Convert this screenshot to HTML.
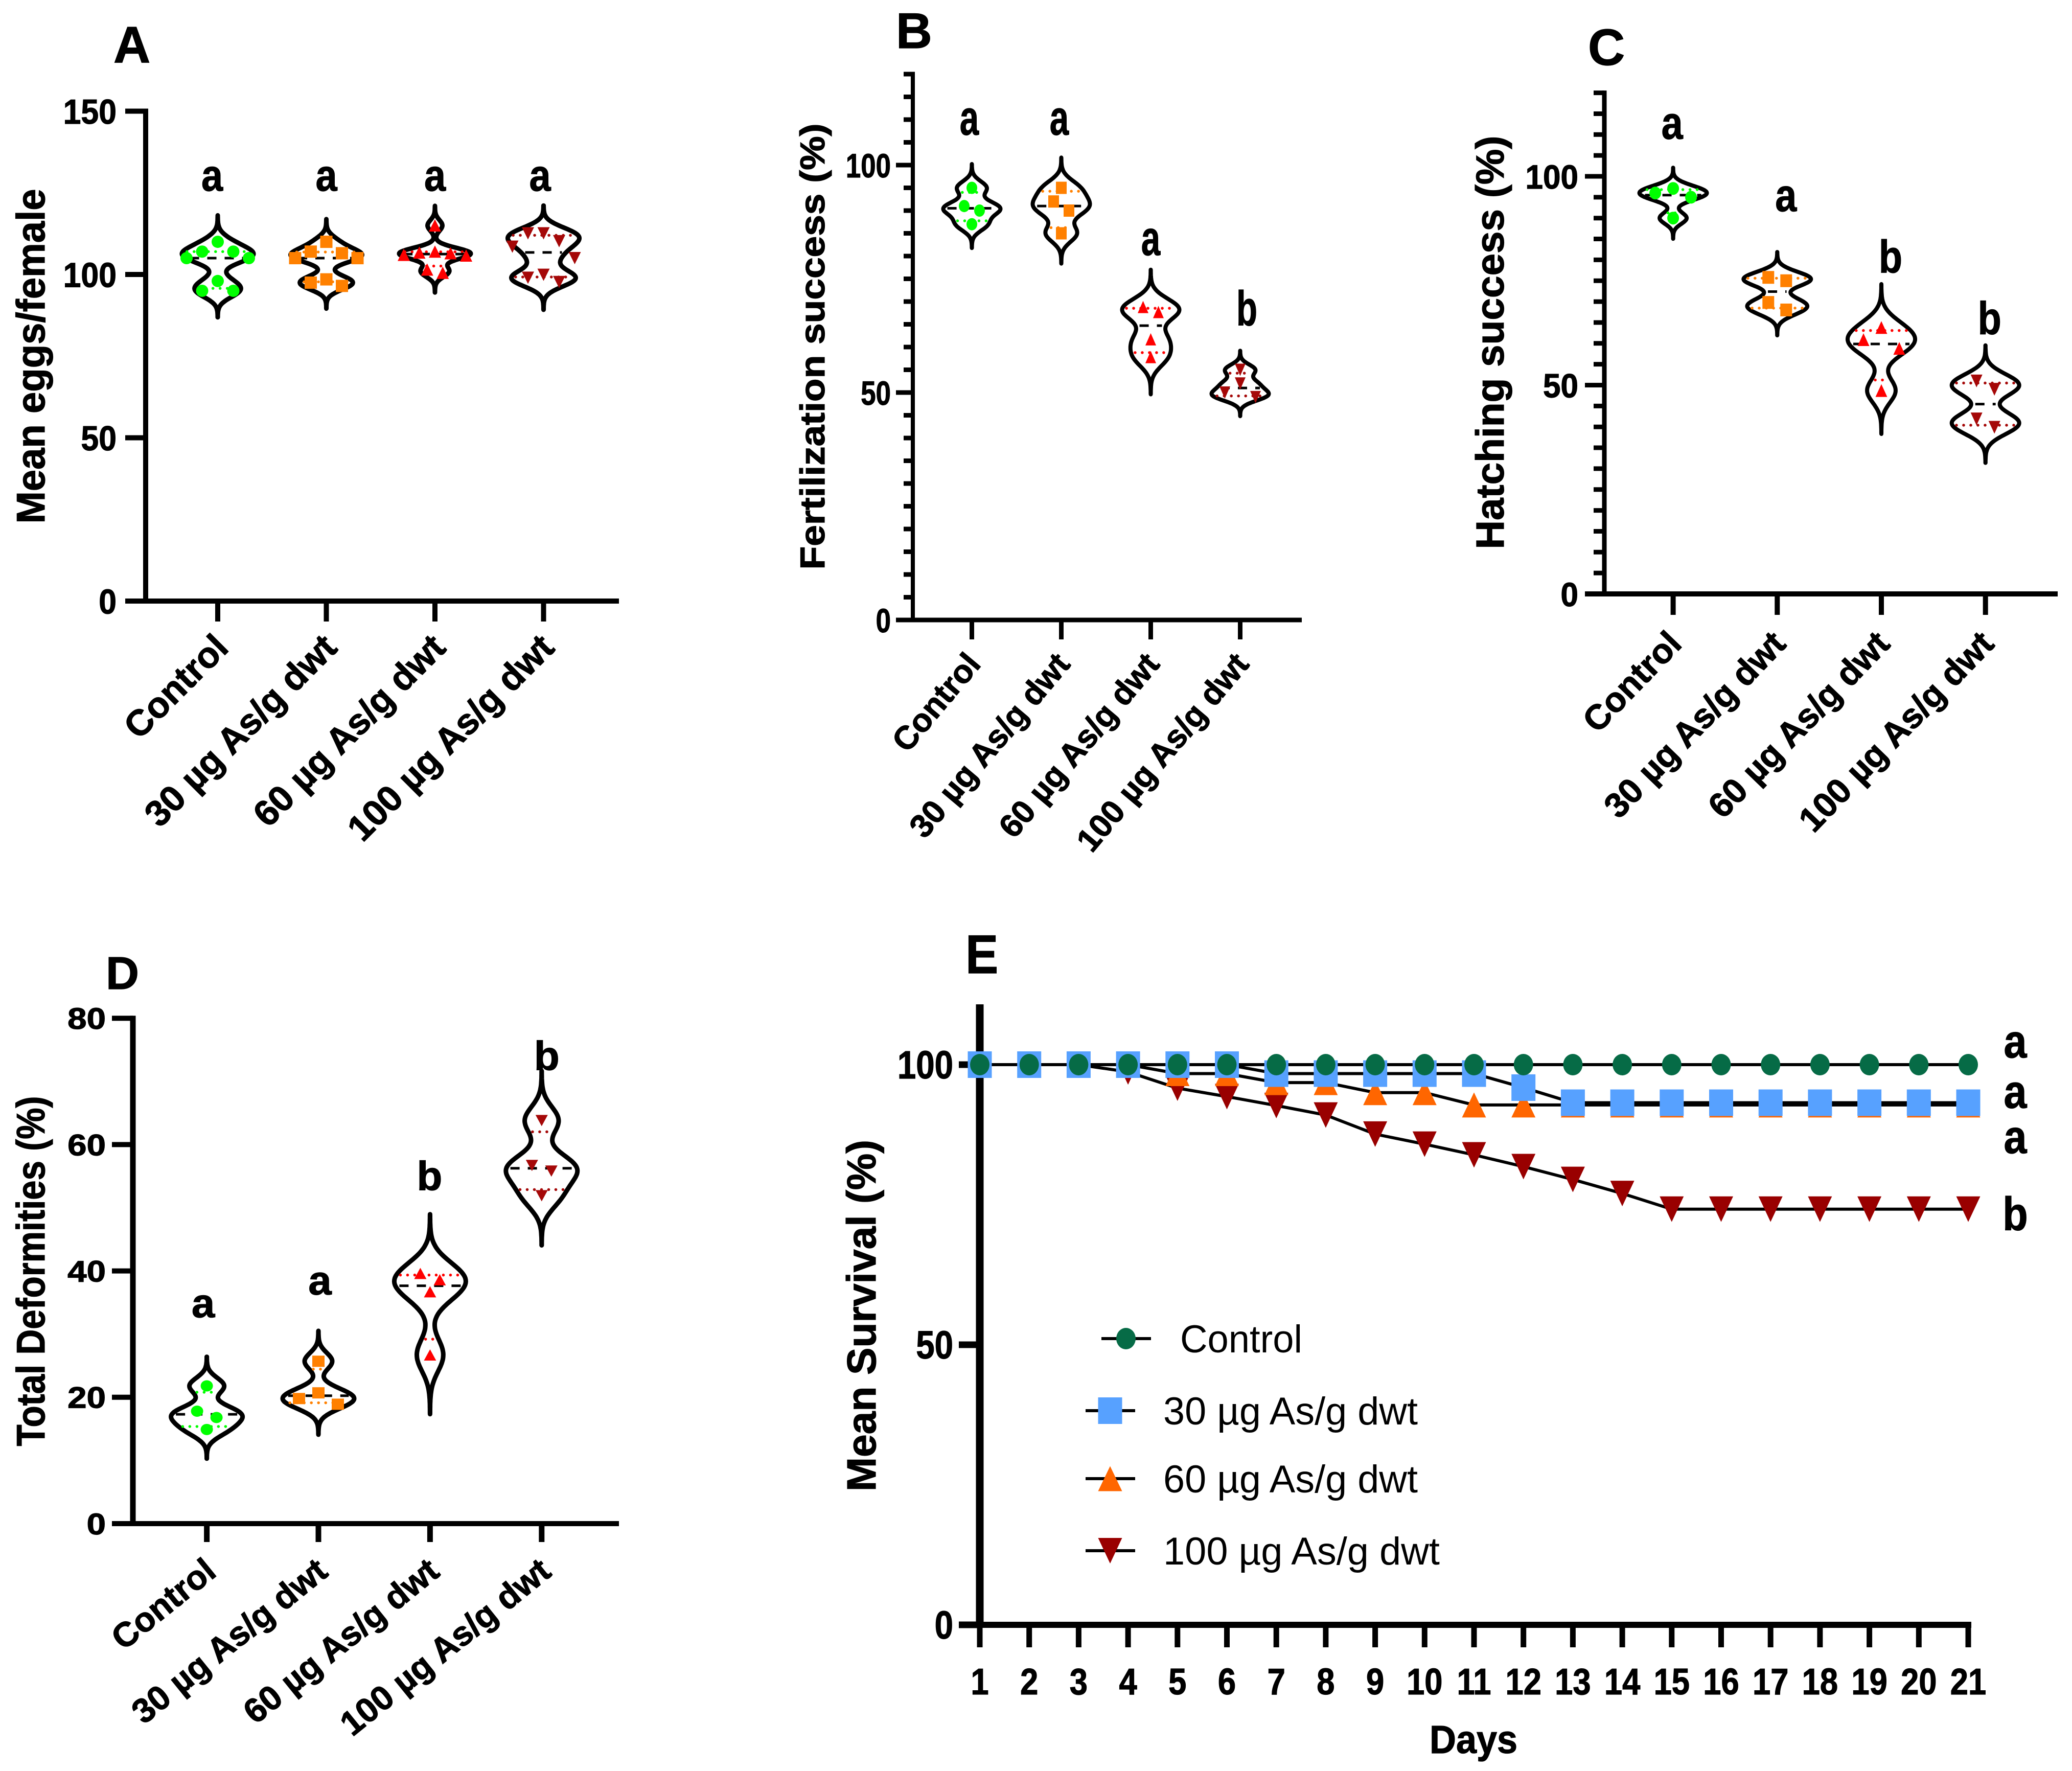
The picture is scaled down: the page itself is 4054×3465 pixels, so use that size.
<!DOCTYPE html>
<html lang="en">
<head>
<meta charset="utf-8">
<title>Arsenic exposure reproductive and survival outcomes</title>
<style>
html,body{margin:0;padding:0;background:#fff;}
svg{display:block;}
text{font-family:"Liberation Sans",Arial,sans-serif;fill:#000;}
text[font-weight="bold"]{stroke:#000;stroke-width:1.2px;}
</style>
</head>
<body>
<svg id="figure" xmlns="http://www.w3.org/2000/svg" width="4054" height="3465" viewBox="0 0 4054 3465"></svg>
<script>
// ---------- Data ----------
const categories = ["Control", "30 µg As/g dwt", "60 µg As/g dwt", "100 µg As/g dwt"];

const eggsControl = [110, 107, 107, 105, 105, 98, 95, 95];
const eggs30 = [110, 107, 106.5, 105, 105, 98.5, 97.5, 96.5];
const eggs60 = [115, 107, 106.7, 106.5, 106, 105.8, 101.5, 100.5];
const eggs100 = [112.6, 112.6, 110.2, 108.5, 105, 99.9, 99, 97.7];
const eggsLetters = ["a", "a", "a", "a"];
const eggsLetterLevels = [125.7, 125.7, 125.7, 125.7];
const eggsTicks = [0, 50, 100, 150];

const fertControl = [95, 91, 90, 87];
const fert30 = [95, 92, 90, 85];
const fert60 = [68.8, 67.7, 61.7, 57.8];
const fert100 = [55, 52, 50, 49];
const fertLetters = ["a", "a", "a", "b"];
const fertLetterLevels = [106.7, 106.7, 80.2, 64.8];
const fertTicks = [0, 50, 100];

const hatchControl = [97.1, 96, 95, 90];
const hatch30 = [75.8, 75, 69.8, 68];
const hatch60 = [63.8, 60.9, 58.8, 48.7];
const hatch100 = [51, 49, 41.9, 39.9];
const hatchLetters = ["a", "a", "b", "b"];
const hatchLetterLevels = [109, 91.7, 76.9, 62.2];
const hatchTicks = [0, 50, 100];

const deformControl = [21.8, 17.8, 16.8, 14.9];
const deform30 = [25.7, 20.7, 19.8, 18.9];
const deform60 = [39.6, 38.6, 36.7, 26.7];
const deform100 = [63.8, 56.7, 55.8, 51.9];
const deformLetters = ["a", "a", "b", "b"];
const deformLetterLevels = [32.7, 36.3, 52.8, 71.8];
const deformTicks = [0, 20, 40, 60, 80];

const days = [1, 2, 3, 4, 5, 6, 7, 8, 9, 10, 11, 12, 13, 14, 15, 16, 17, 18, 19, 20, 21];
const survivalControl = [100, 100, 100, 100, 100, 100, 100, 100, 100, 100, 100, 100, 100, 100, 100, 100, 100, 100, 100, 100, 100];
const survival30 = [100, 100, 100, 100, 100, 100, 98.4, 98.4, 98.4, 98.4, 98.4, 95.9, 93.2, 93.2, 93.2, 93.2, 93.2, 93.2, 93.2, 93.2, 93.2];
const survival60 = [100, 100, 100, 100, 98.4, 98.4, 96.8, 96.8, 95, 95, 92.8, 92.8, 92.8, 92.8, 92.8, 92.8, 92.8, 92.8, 92.8, 92.8, 92.8];
const survival100 = [100, 100, 100, 98.7, 95.8, 94.3, 92.7, 91, 87.6, 85.8, 83.9, 81.8, 79.5, 77, 74.2, 74.2, 74.2, 74.2, 74.2, 74.2, 74.2];
const survivalTicks = [0, 50, 100];
const survivalLetters = ["a", "a", "a", "b"];
const survivalLetterLevels = [101.3, 92.3, 84.2, 70.5];

// ---------- Layout and style (separate from data) ----------
const groupColors = ["#00FF00", "#FF8000", "#FF0000", "#A50808"];
const groupShapes = ["circle", "square", "up", "down"];
const survivalColors = ["#066B46", "#57A1FF", "#FF6600", "#990000"];

const svg = document.getElementById("figure");
const NS = "http://www.w3.org/2000/svg";

function el(parent, tag, name, attrs) {
  const node = document.createElementNS(NS, tag);
  
  
  for (const k in attrs) node.setAttribute(k, attrs[k]);
  parent.appendChild(node);
  return node;
}

function label(parent, name, str, x, y, o) {
  const sx = o.sx === undefined ? 1 : o.sx;
  const rot = o.rot === undefined ? 0 : o.rot;
  const attrs = {
    transform: "translate(" + x + "," + y + ") rotate(" + rot + ") scale(" + sx + ",1)",
    "font-size": o.size,
    "font-weight": o.weight || "bold",
    "text-anchor": o.anchor || "start"
  };
  if (o.length) {
    attrs.textLength = o.length;
    attrs.lengthAdjust = "spacingAndGlyphs";
  }
  const t = el(parent, "text", name, attrs);
  t.textContent = str;
  return t;
}

function line(parent, name, x1, y1, x2, y2, w, color, dash, cap) {
  const attrs = { x1: x1, y1: y1, x2: x2, y2: y2, stroke: color || "#000", "stroke-width": w };
  if (dash) attrs["stroke-dasharray"] = dash;
  if (cap) attrs["stroke-linecap"] = cap;
  return el(parent, "line", name, attrs);
}

function marker(parent, name, shape, x, y, w, h, color) {
  if (shape === "circle") {
    return el(parent, "ellipse", name, { cx: x, cy: y, rx: w / 2, ry: h / 2, fill: color });
  }
  if (shape === "square") {
    return el(parent, "rect", name, { x: x - w / 2, y: y - h / 2, width: w, height: h, fill: color });
  }
  const pts = shape === "up"
    ? [[x, y - h / 2], [x + w / 2, y + h / 2], [x - w / 2, y + h / 2]]
    : [[x, y + h / 2], [x + w / 2, y - h / 2], [x - w / 2, y - h / 2]];
  return el(parent, "polygon", name, { points: pts.map(p => p.join(",")).join(" "), fill: color });
}

// ---------- Statistics for violin outlines ----------
function stdev(v) {
  const m = v.reduce((a, b) => a + b, 0) / v.length;
  return Math.sqrt(v.reduce((a, b) => a + (b - m) * (b - m), 0) / (v.length - 1));
}
function density(v, y, h) {
  let s = 0;
  for (const p of v) s += Math.exp(-0.5 * Math.pow((y - p) / h, 2));
  return s;
}
function percentile(v, p) {
  const s = v.slice().sort((a, b) => a - b);
  const r = Math.min(Math.max((s.length + 1) * p, 1), s.length) - 1;
  const i = Math.floor(r);
  const j = Math.min(i + 1, s.length - 1);
  return s[i] + (s[j] - s[i]) * (r - i);
}

function slotsFor(n) {
  const out = [];
  if (n % 2 === 1) {
    out.push(0);
    for (let k = 1; out.length < n; k++) out.push(-k, k);
  } else {
    for (let k = 0; out.length < n; k++) out.push(-(k + 0.5), k + 0.5);
  }
  return out;
}

function drawViolin(g, name, values, cx, yOf, pxPerUnit, L, shape, color) {
  const h = 0.58 * stdev(values) * Math.pow(values.length, -0.2);
  const lo = Math.min.apply(null, values) - 3.6 * h;
  const hi = Math.max.apply(null, values) + 3.6 * h;
  const samples = [];
  for (let i = 0; i <= 110; i++) samples.push(lo + (hi - lo) * i / 110);
  const maxD = Math.max.apply(null, samples.map(y => density(values, y, h)));
  const half = y => L.violinHalf * density(values, y, h) / maxD;
  const right = samples.map(y => (cx + half(y)).toFixed(1) + "," + yOf(y).toFixed(1));
  const left = samples.slice().reverse().map(y => (cx - half(y)).toFixed(1) + "," + yOf(y).toFixed(1));
  el(g, "path", name + "-violin", {
    d: "M" + right.join(" L") + " L" + left.join(" L") + " Z",
    fill: "#fff", stroke: "#000", "stroke-width": L.violinStroke, "stroke-linejoin": "round"
  });
  const q1 = percentile(values, 0.25);
  const q3 = percentile(values, 0.75);
  const med = percentile(values, 0.5);
  line(g, name + "-quartile-lower", cx - half(q1) + 8, yOf(q1), cx + half(q1) - 8, yOf(q1), 5.5, color, "0.1 13.9", "round");
  line(g, name + "-quartile-upper", cx - half(q3) + 8, yOf(q3), cx + half(q3) - 8, yOf(q3), 5.5, color, "0.1 13.9", "round");
  line(g, name + "-median", cx - half(med) + 8, yOf(med), cx + half(med) - 8, yOf(med), 5, "#000", "18 16");

  // Group points that would collide vertically, then spread each group sideways.
  const sorted = values.slice().sort((a, b) => b - a);
  let start = 0;
  while (start < sorted.length) {
    let end = start + 1;
    while (end < sorted.length && (sorted[end - 1] - sorted[end]) * pxPerUnit < L.markerH) end++;
    const slots = slotsFor(end - start);
    for (let i = start; i < end; i++) {
      marker(g, name + "-point", shape, cx + slots[i - start] * L.slot, yOf(sorted[i]), L.markerW, L.markerH, color);
    }
    start = end;
  }
}

function drawViolinPanel(name, L, groups, ticks, letters, levels) {
  const g = el(svg, "g", name, {});
  const yOf = v => L.axisY - v * L.unit;
  const xOf = i => L.catStart + i * L.catStep;
  label(g, name + "-letter", L.panel, L.panelX, L.panelY, { size: L.panelSize });
  label(g, name + "-y-axis-title", L.title, L.titleX, L.titleY, { size: L.titleSize, rot: -90, anchor: "middle", length: L.titleLen });

  line(g, name + "-y-axis", L.axisX, yOf(L.yMax) - L.tickStroke / 2, L.axisX, L.axisY + L.xStroke / 2, L.yStroke);
  line(g, name + "-x-axis", L.xLeft, L.axisY, L.xRight, L.axisY, L.xStroke);
  if (L.minorStep) {
    for (let v = 0; v <= L.yMax; v += L.minorStep) {
      if (ticks.indexOf(v) < 0) line(g, name + "-y-minor-tick", L.axisX - L.minorLen, yOf(v), L.axisX, yOf(v), L.tickStroke);
    }
  }
  ticks.forEach(v => {
    line(g, name + "-y-tick", L.xLeft, yOf(v), L.axisX, yOf(v), L.tickStroke);
    label(g, name + "-y-tick-label", String(v), L.tickEnd, yOf(v) + L.tickSize * 0.36, { size: L.tickSize, sx: L.tickSx, anchor: "end" });
  });
  categories.forEach((c, i) => {
    line(g, name + "-x-tick", xOf(i), L.axisY, xOf(i), L.axisY + L.tickDown, L.xTickStroke);
    label(g, name + "-x-tick-label", c, xOf(i) + L.labelDx, L.axisY + L.labelDy, { size: L.labelSize, rot: L.labelRot, anchor: "end" });
  });
  groups.forEach((values, i) => {
    drawViolin(g, name + "-group-" + (i + 1), values, xOf(i), yOf, L.unit, L, groupShapes[i], groupColors[i]);
  });
  letters.forEach((s, i) => {
    label(g, name + "-significance-letter", s, xOf(i) + L.letterDx[i], yOf(levels[i]), { size: L.letterSize, sx: L.letterSx, anchor: "middle" });
  });
}

drawViolinPanel("panel-a", {
  panel: "A", panelX: 222, panelY: 122, panelSize: 100,
  title: "Mean eggs/female", titleX: 87, titleY: 697, titleSize: 78, titleLen: 655,
  axisX: 285, axisY: 1176, unit: 6.39, yMax: 150, xLeft: 245, xRight: 1211,
  catStart: 426, catStep: 212.5, yStroke: 10, xStroke: 10, tickStroke: 10, xTickStroke: 10,
  tickEnd: 228, tickSize: 68, tickSx: 0.92, tickDown: 40,
  labelDx: 24.5, labelDy: 95, labelSize: 71, labelRot: -45,
  violinHalf: 70, violinStroke: 9, slot: 30.5, markerW: 24, markerH: 24,
  letterDx: [-11, 0, 0, -7], letterSize: 87, letterSx: 0.87
}, [eggsControl, eggs30, eggs60, eggs100], eggsTicks, eggsLetters, eggsLetterLevels);

drawViolinPanel("panel-b", {
  panel: "B", panelX: 1753, panelY: 94, panelSize: 98,
  title: "Fertilization success (%)", titleX: 1613, titleY: 678, titleSize: 68, titleLen: 873,
  axisX: 1786, axisY: 1213, unit: 8.9, yMax: 120, xLeft: 1753, xRight: 2547,
  catStart: 1901.5, catStep: 175, yStroke: 8, xStroke: 9, tickStroke: 9, xTickStroke: 9,
  minorStep: 5, minorLen: 18,
  tickEnd: 1743, tickSize: 66, tickSx: 0.8, tickDown: 38,
  labelDx: 20, labelDy: 88, labelSize: 64, labelRot: -50,
  violinHalf: 56, violinStroke: 8, slot: 30, markerW: 21, markerH: 24,
  letterDx: [-5, -4, 0, 13], letterSize: 96, letterSx: 0.7
}, [fertControl, fert30, fert60, fert100], fertTicks, fertLetters, fertLetterLevels);

drawViolinPanel("panel-c", {
  panel: "C", panelX: 3107, panelY: 127, panelSize: 100,
  title: "Hatching success (%)", titleX: 2942, titleY: 670, titleSize: 77, titleLen: 809,
  axisX: 3139, axisY: 1162, unit: 8.17, yMax: 120, xLeft: 3101, xRight: 4026,
  catStart: 3273.6, catStep: 203.7, yStroke: 9, xStroke: 10, tickStroke: 9, xTickStroke: 10,
  minorStep: 5, minorLen: 21,
  tickEnd: 3088, tickSize: 66, tickSx: 0.94, tickDown: 41,
  labelDx: 20, labelDy: 101, labelSize: 68, labelRot: -46,
  violinHalf: 66, violinStroke: 8, slot: 35, markerW: 23, markerH: 25,
  letterDx: [-2, 17, 18, 8], letterSize: 90, letterSx: 0.84
}, [hatchControl, hatch30, hatch60, hatch100], hatchTicks, hatchLetters, hatchLetterLevels);

drawViolinPanel("panel-d", {
  panel: "D", panelX: 207, panelY: 1935, panelSize: 90,
  title: "Total Deformities (%)", titleX: 87, titleY: 2487, titleSize: 78, titleLen: 685,
  axisX: 260, axisY: 2981, unit: 12.36, yMax: 80, xLeft: 219, xRight: 1211,
  catStart: 404.6, catStep: 218.4, yStroke: 11, xStroke: 10, tickStroke: 10, xTickStroke: 11,
  tickEnd: 207, tickSize: 58, tickSx: 1.16, tickDown: 36,
  labelDx: 22, labelDy: 100, labelSize: 67, labelRot: -39,
  violinHalf: 70, violinStroke: 9, slot: 38, markerW: 24, markerH: 22,
  letterDx: [-7, 3, -1, 10], letterSize: 80, letterSx: 1.02
}, [deformControl, deform30, deform60, deform100], deformTicks, deformLetters, deformLetterLevels);

// ---------- Panel E: survival ----------
(function () {
  const g = el(svg, "g", "panel-e", {});
  const axisX = 1917, axisY = 3179, unit = 10.96, firstX = 1917, stepX = 96.7;
  const yOf = v => axisY - v * unit;
  const xOf = d => firstX + (d - 1) * stepX;
  const series = [survival100, survival60, survival30, survivalControl];
  const order = [3, 2, 1, 0];
  const sizes = { circle: [38, 42], square: [47, 52], up: [47, 49], down: [47, 50] };

  label(g, "panel-e-letter", "E", 1889, 1904, { size: 107, sx: 0.9 });
  label(g, "panel-e-y-axis-title", "Mean Survival (%)", 1713, 2574, { size: 80, rot: -90, anchor: "middle", length: 688 });
  label(g, "panel-e-x-axis-title", "Days", 2883, 3430, { size: 77, anchor: "middle", length: 172 });

  line(g, "panel-e-y-axis", axisX, 1965, axisX, axisY, 15);
  line(g, "panel-e-x-axis", 1876, axisY, 3857, axisY, 12);
  survivalTicks.forEach(v => {
    line(g, "panel-e-y-tick", 1876, yOf(v), axisX, yOf(v), 13);
    label(g, "panel-e-y-tick-label", String(v), 1865, yOf(v) + 27, { size: 77, sx: 0.85, anchor: "end" });
  });
  days.forEach(d => {
    line(g, "panel-e-x-tick", xOf(d), axisY, xOf(d), 3223, 11);
    label(g, "panel-e-x-tick-label", String(d), xOf(d), 3315, { size: 72, sx: 0.88, anchor: "middle" });
  });

  series.forEach((vals, s) => {
    const idx = order[s];
    const pts = days.map((d, i) => xOf(d).toFixed(1) + "," + yOf(vals[i]).toFixed(1)).join(" ");
    el(g, "polyline", "survival-line-" + (idx + 1), { points: pts, fill: "none", stroke: "#000", "stroke-width": 6 });
  });
  series.forEach((vals, s) => {
    const idx = order[s];
    const shape = groupShapes[idx];
    days.forEach((d, i) => {
      marker(g, "survival-point-" + (idx + 1), shape, xOf(d), yOf(vals[i]), sizes[shape][0], sizes[shape][1], survivalColors[idx]);
    });
  });

  survivalLetters.forEach((s, i) => {
    label(g, "survival-significance-letter", s, 3943, yOf(survivalLetterLevels[i]), { size: 92, sx: 0.88, anchor: "middle" });
  });

  const legendLineX = [2155, 2124, 2124, 2124];
  const legendY = [2619, 2760, 2893, 3034];
  const legendTextX = [2309, 2276, 2276, 2276];
  const legendLen = [239, 498, 498, 541];
  categories.forEach((c, i) => {
    const shape = groupShapes[i];
    line(g, "legend-line-" + (i + 1), legendLineX[i], legendY[i], legendLineX[i] + 97, legendY[i], 6);
    marker(g, "legend-marker-" + (i + 1), shape, legendLineX[i] + 48, legendY[i], sizes[shape][0], sizes[shape][1], survivalColors[i]);
    label(g, "legend-entry-" + (i + 1), c, legendTextX[i], legendY[i] + 27, { size: 76, weight: "normal", length: legendLen[i] });
  });
})();
</script>
</body>
</html>
